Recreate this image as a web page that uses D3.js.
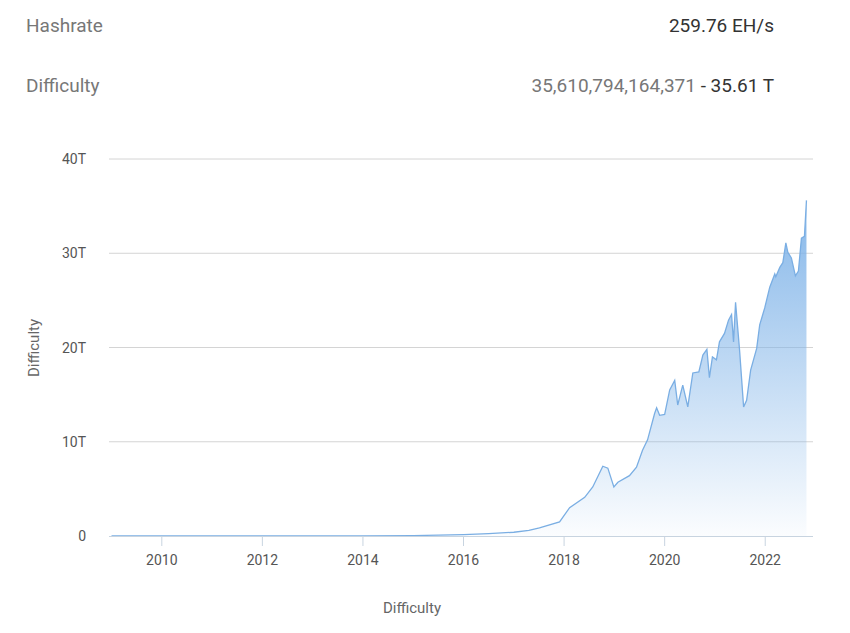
<!DOCTYPE html><html><head><meta charset="utf-8"><script src="https://cdn.jsdelivr.net/npm/d3@7"></script>
<style>body{margin:0;background:#fff;font-family:Roboto,sans-serif}</style></head><body><svg id="c" width="850" height="633"></svg>
<script>
const years=[2009.0,2010,2011,2012,2013,2014,2015,2016,2016.5,2017,2017.3,2017.51,2017.91,2018.11,2018.41,2018.57,2018.77,2018.87,2018.99,2019.07,2019.30,2019.44,2019.56,2019.66,2019.80,2019.84,2019.90,2020.0,2020.10,2020.20,2020.26,2020.36,2020.46,2020.56,2020.68,2020.76,2020.84,2020.89,2020.95,2021.03,2021.09,2021.19,2021.27,2021.33,2021.37,2021.41,2021.49,2021.57,2021.63,2021.71,2021.83,2021.89,2021.99,2022.09,2022.19,2022.21,2022.29,2022.35,2022.41,2022.45,2022.52,2022.60,2022.66,2022.72,2022.78,2022.82];
const difficultyT=[0,0,0,0,0.0001,0.003,0.05,0.15,0.25,0.4,0.6,0.85,1.5,3.0,4.1,5.2,7.4,7.2,5.2,5.7,6.4,7.3,9.1,10.2,13.0,13.6,12.8,12.9,15.5,16.5,13.9,16.0,13.7,17.3,17.4,19.2,19.8,16.8,19.0,18.7,20.6,21.5,22.9,23.5,20.6,24.8,19.7,13.7,14.4,17.6,19.9,22.4,24.2,26.4,27.8,27.5,28.5,29.0,31.1,30.1,29.5,27.6,28.1,31.6,31.8,35.61];
const yTicks=[0,10,20,30,40];
const xTicks=[2010,2012,2014,2016,2018,2020,2022];
const svg=d3.select("#c");
const x=d3.scaleLinear().domain([2008.95,2022.95]).range([109,813]);
const y=d3.scaleLinear().domain([0,40]).range([536,159]);
const g=svg.append("g");
const grad=svg.append("defs").append("linearGradient").attr("id","gr").attr("x1",0).attr("x2",0).attr("y1",0).attr("y2",1);
grad.append("stop").attr("offset","0%").attr("stop-color","#7fb3e8").attr("stop-opacity",0.95);
grad.append("stop").attr("offset","100%").attr("stop-color","#7fb3e8").attr("stop-opacity",0.03);
yTicks.forEach(t=>{
 if(t>0)g.append("line").attr("x1",109).attr("x2",813).attr("y1",y(t)).attr("y2",y(t)).attr("stroke","#d4d4d4");
 g.append("text").attr("x",86).attr("y",y(t)+5).attr("text-anchor","end").attr("fill","#555").attr("font-size",14).text(t===0?"0":t+"T");
});
const data=years.map((d,i)=>[d,difficultyT[i]]);
g.append("path").datum(data).attr("d",d3.area().x(d=>x(d[0])).y0(y(0)).y1(d=>y(d[1]))).attr("fill","url(#gr)").attr("stroke","none");
g.append("path").datum(data).attr("d",d3.line().x(d=>x(d[0])).y(d=>y(d[1]))).attr("fill","none").attr("stroke","#7aaee3").attr("stroke-width",1.3);
g.append("line").attr("x1",109).attr("x2",813).attr("y1",536.5).attr("y2",536.5).attr("stroke","#c8d4e0");
xTicks.forEach(t=>{
 g.append("line").attr("x1",x(t)).attr("x2",x(t)).attr("y1",536).attr("y2",546).attr("stroke","#c8d4e0");
 g.append("text").attr("x",x(t)).attr("y",565).attr("text-anchor","middle").attr("fill","#555").attr("font-size",14).text(t);
});
svg.append("text").attr("x",412).attr("y",613).attr("text-anchor","middle").attr("fill","#666").attr("font-size",15).text("Difficulty");
svg.append("text").attr("transform","translate(39,348) rotate(-90)").attr("text-anchor","middle").attr("fill","#666").attr("font-size",15).text("Difficulty");
svg.append("text").attr("x",26).attr("y",32).attr("fill","#777").attr("font-size",19).text("Hashrate");
svg.append("text").attr("x",774).attr("y",32).attr("text-anchor","end").attr("fill","#333").attr("font-size",19).text("259.76 EH/s");
svg.append("text").attr("x",26).attr("y",92).attr("fill","#777").attr("font-size",19).text("Difficulty");
const t2=svg.append("text").attr("x",774).attr("y",92).attr("text-anchor","end").attr("font-size",19);
t2.append("tspan").attr("fill","#777").text("35,610,794,164,371");
t2.append("tspan").attr("fill","#333").text(" - 35.61 T");
</script></body></html>
